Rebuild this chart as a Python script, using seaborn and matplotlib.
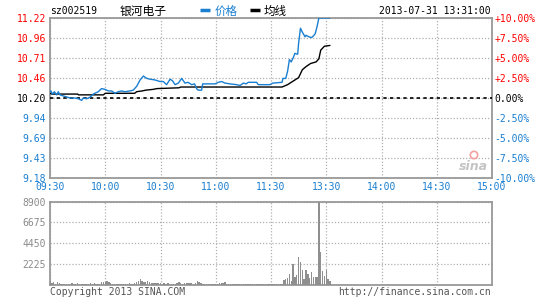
import matplotlib
matplotlib.use("Agg")
import matplotlib.pyplot as plt
import seaborn as sns
import pandas as pd
from matplotlib.lines import Line2D

# ---------------- data ----------------
price_min = [0, 0.5, 1.3, 2.4, 3.6, 4.5, 5.4, 8.1, 10.9, 13.6, 15.4, 17.2, 18.1, 19.9,
             21.7, 23.5, 26.2, 28, 29.9, 31.7, 33.5, 35.3, 37.1, 38.9, 40.7, 43.4, 45.2,
             47.1, 48.9, 50.7, 52.5, 54.3, 57, 59.7, 61.5, 63.3, 65.2, 66.5, 67.9, 69.7,
             71.5, 73.3, 75, 76.9, 78.5, 79.6, 80.5, 82.3, 82.9, 89.6, 91.4, 93.2, 95,
             97.7, 101.3, 103.2, 105, 106.5, 107.7, 112.2, 113.1, 119.4, 121, 126,
             126.5, 128, 129, 130, 131, 132, 133, 134, 134.5, 135, 136, 137, 138.5,
             139, 140.6, 142, 143, 144, 145, 146, 152]
price_val = [10.28, 10.29, 10.25, 10.28, 10.24, 10.28, 10.24, 10.22, 10.20, 10.20, 10.19,
             10.17, 10.20, 10.19, 10.21, 10.25, 10.28, 10.32, 10.31, 10.29, 10.29, 10.26,
             10.28, 10.29, 10.28, 10.29, 10.30, 10.35, 10.43, 10.48, 10.45, 10.44, 10.43,
             10.41, 10.41, 10.37, 10.44, 10.42, 10.37, 10.39, 10.45, 10.39, 10.40, 10.37,
             10.38, 10.32, 10.30, 10.30, 10.38, 10.38, 10.40, 10.41, 10.39, 10.38, 10.37,
             10.36, 10.39, 10.38, 10.40, 10.40, 10.37, 10.37, 10.39, 10.40,
             10.45, 10.45, 10.54, 10.69, 10.66, 10.71, 10.77, 10.76, 10.76, 10.90, 11.09,
             11.04, 10.98, 11.00, 10.98, 10.97, 10.99, 11.02, 11.11, 11.22, 11.22]

avg_min = [0, 1, 15, 15.5, 29, 30, 46, 47, 50, 52, 56, 58, 70, 71, 126, 129, 131, 133,
           135, 137, 139, 141.5, 144.5, 146, 147, 149, 152]
avg_val = [10.26, 10.25, 10.25, 10.24, 10.24, 10.26, 10.26, 10.28, 10.29, 10.30, 10.31,
           10.32, 10.33, 10.34, 10.34, 10.37, 10.40, 10.43, 10.46, 10.56, 10.60, 10.64,
           10.66, 10.70, 10.81, 10.86, 10.87]

volume = [460, 260, 350, 150, 360, 180, 120, 150, 130, 140,
          150, 130, 160, 120, 140, 250, 150, 130, 140, 120,
          150, 130, 250, 140, 160, 120, 150, 130, 300, 360,
          280, 460, 300, 200, 150, 120, 140, 130, 150, 120,
          140, 130, 150, 160, 140, 130, 200, 360, 430, 610,
          430, 360, 280, 460, 280, 200, 220, 200, 200, 180,
          160, 150, 200, 150, 180, 150, 120, 130, 140, 200,
          360, 180, 150, 160, 180, 250, 250, 180, 150, 200,
          460, 290, 220, 140, 130, 120, 140, 130, 120, 130,
          140, 120, 250, 220, 230, 280, 130, 120, 130, 110,
          120, 130, 120, 110, 130, 120, 110, 130, 120, 110,
          120, 130, 110, 120, 110, 130, 120, 110, 130, 120,
          140, 130, 140, 120, 140, 130, 150,
          530, 640, 710, 1170, 430, 2200, 850, 1070, 2990, 2490,
          1600, 640, 1600, 1170, 710, 1420, 850, 850, 850, 8900,
          3560, 1500, 960, 1600, 640, 430]

time_ticks = [0, 30, 60, 90, 120, 150, 180, 210, 240]
time_labels = ["09:30", "10:00", "10:30", "11:00", "11:30", "13:30", "14:00", "14:30", "15:00"]
price_ticks = [11.22, 10.965, 10.71, 10.455, 10.20, 9.945, 9.69, 9.435, 9.18]
price_labels = ["11.22", "10.96", "10.71", "10.46", "10.20", "9.94", "9.69", "9.43", "9.18"]
pct_labels = ["+10.00%", "+7.50%", "+5.00%", "+2.50%", "0.00%", "-2.50%", "-5.00%", "-7.50%", "-10.00%"]
vol_ticks = [0, 2225, 4450, 6675, 8900]
vol_labels = ["", "2225", "4450", "6675", "8900"]
prev_close = 10.20

# ---------------- style ----------------
sns.set_style("white")
plt.rcParams["font.family"] = ["DejaVu Sans Mono", "Noto Sans CJK SC"]

RED = "#ff0000"
BLUE = "#1a7fd0"
GRAY = "#999999"
GRID = "#b0b0b0"
W, H = 545, 300

fig = plt.figure(figsize=(W / 100, H / 100), dpi=100)
fig.patch.set_facecolor("white")


def box(x0, y0, x1, y1):
    return [x0 / W, 1 - y1 / H, (x1 - x0) / W, (y1 - y0) / H]


ax = fig.add_axes(box(50, 18, 492, 178))
axv = fig.add_axes(box(50, 201.5, 492, 285))

df_p = pd.DataFrame({"m": price_min, "v": price_val})
df_a = pd.DataFrame({"m": avg_min, "v": avg_val})

for a in (ax, axv):
    a.set_xlim(0, 240)
    a.set_xticks(time_ticks)
    a.grid(True, color=GRID, linestyle=(0, (1, 1.5)), linewidth=0.9)
    for s in a.spines.values():
        s.set_color(GRAY)
        s.set_linewidth(1.3)
        s.set_visible(True)
    a.tick_params(length=0)

ax.set_ylim(9.18, 11.22)
ax.set_yticks(price_ticks)
ax.set_yticklabels(price_labels, fontsize=7)
ax.set_xticklabels(time_labels, fontsize=7, color=BLUE)
ax.tick_params(axis="y", pad=3)
ax.tick_params(axis="x", pad=3)
for lbl, v in zip(ax.get_yticklabels(), price_ticks):
    lbl.set_color(RED if v > prev_close + 1e-6 else ("black" if abs(v - prev_close) < 1e-6 else BLUE))

ax.axhline(prev_close, color="black", linestyle=(0, (2, 2)), linewidth=1.2, zorder=3)

sns.lineplot(data=df_p, x="m", y="v", ax=ax, color=BLUE, linewidth=1.0, zorder=5,
             estimator=None, sort=False)
sns.lineplot(data=df_a, x="m", y="v", ax=ax, color="black", linewidth=1.0, zorder=4,
             estimator=None, sort=False)
ax.set_xlabel("")
ax.set_ylabel("")

axr = ax.twinx()
axr.set_ylim(9.18, 11.22)
axr.set_yticks(price_ticks)
axr.set_yticklabels(pct_labels, fontsize=7)
axr.tick_params(length=0, pad=2)
for s in axr.spines.values():
    s.set_visible(False)
for lbl, v in zip(axr.get_yticklabels(), price_ticks):
    lbl.set_color(RED if v > prev_close + 1e-6 else ("black" if abs(v - prev_close) < 1e-6 else BLUE))

axv.set_ylim(0, 8900)
axv.set_yticks(vol_ticks)
axv.set_yticklabels(vol_labels, fontsize=7, color="#8a8a8a")
axv.set_xticklabels([])
axv.tick_params(axis="y", pad=3)
axv.bar(range(len(volume)), volume, width=0.75, color="#8f8f8f", linewidth=0, zorder=3)

# ---------------- header / footer texts ----------------
def ft(x, y, s, **kw):
    fig.text(x / W, 1 - y / H, s, **kw)

ft(50, 11, "sz002519", fontsize=7, color="black", va="center", ha="left")
ft(120, 11, "银河电子", fontsize=8.5, color="black", va="center", ha="left",
   family=["Noto Sans CJK SC", "DejaVu Sans"])
fig.add_artist(Line2D([200 / W, 210 / W], [1 - 9.5 / H, 1 - 9.5 / H], color=BLUE,
                      linewidth=2.5, solid_capstyle="butt"))
ft(215, 11, "价格", fontsize=8.3, color=BLUE, va="center", ha="left",
   family=["Noto Sans CJK SC", "DejaVu Sans"])
fig.add_artist(Line2D([250 / W, 260 / W], [1 - 9.5 / H, 1 - 9.5 / H], color="black",
                      linewidth=2.5, solid_capstyle="butt"))
ft(264, 11, "均线", fontsize=8.3, color="black", va="center", ha="left",
   family=["Noto Sans CJK SC", "DejaVu Sans"])
ft(491, 11, "2013-07-31 13:31:00", fontsize=7, color="black", va="center", ha="right")

ft(50, 292, "Copyright 2013 SINA.COM", fontsize=7, color="#555555", va="center", ha="left")
ft(491, 292, "http://finance.sina.com.cn", fontsize=7, color="#555555", va="center", ha="right")

# watermark
ft(473, 166, "sina", fontsize=9, color="#c4c4c4", va="center", ha="center",
   style="italic", weight="bold", family="DejaVu Sans")
ax.scatter([474 / W], [1 - 155 / H], s=28, facecolors="none", edgecolors="#f2a0a0",
           linewidths=1.2, transform=fig.transFigure, zorder=6, clip_on=False)

fig.savefig("out.png", dpi=100, facecolor="white")
